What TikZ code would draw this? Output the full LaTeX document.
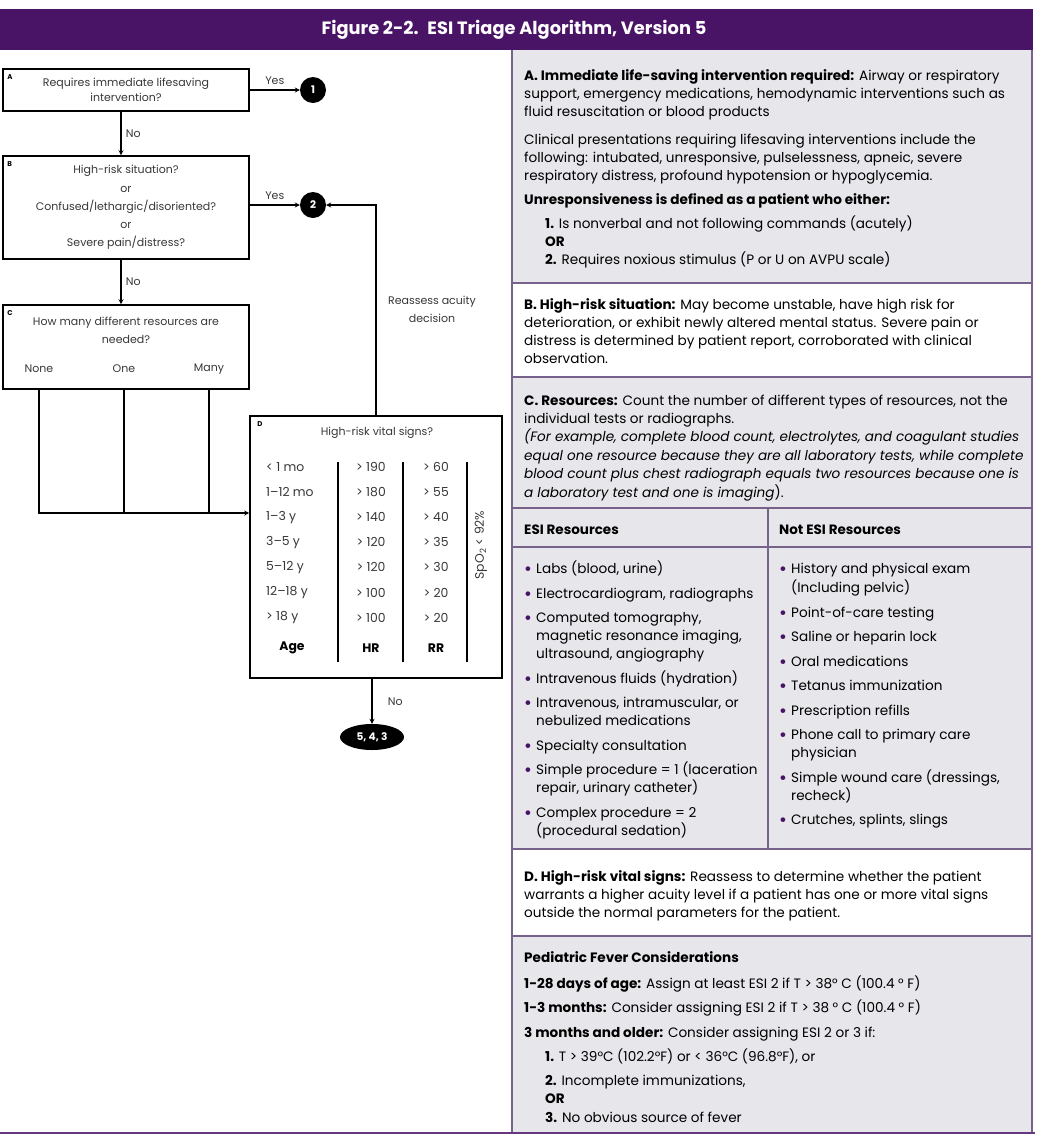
\documentclass[tikz,border=0pt]{standalone}
\usepackage{fontspec}
\setmainfont{Poppins}
\usepackage{xcolor}
\usetikzlibrary{shapes.geometric, arrows.meta, positioning}

\definecolor{esiPurple}{HTML}{4A1466}
\definecolor{panelGray}{HTML}{E6E6EB}
\definecolor{ruleLine}{HTML}{76628A}
\definecolor{flowText}{HTML}{383838}

\newcommand{\esibul}{\makebox[12pt][l]{\color{esiPurple}\raisebox{-1.6pt}{\fontsize{19}{19}\selectfont\textbullet}}}
\newcommand{\esiind}{\hspace*{12pt}}
\newcommand{\numind}{\hspace*{21pt}}

\begin{document}
\begin{tikzpicture}[
    x=1pt, y=-1pt,
    qbox/.style={draw, line width=1.6pt, minimum width=246, inner sep=0},
    ftxt/.style={text=flowText, font=\fontsize{11}{18.2}\selectfont},
    vtxt/.style={text=flowText, font=\fontsize{12.4}{14}\selectfont},
    fhead/.style={text=black, font=\bfseries\fontsize{12.4}{14}\selectfont},
    boxtag/.style={anchor=north west, inner sep=0, font=\bfseries\fontsize{7}{8}\selectfont},
    esinum/.style={circle, fill=black, text=white, minimum size=26, inner sep=0, font=\bfseries\fontsize{10.5}{12}\selectfont},
    flow/.style={-{Stealth[length=5pt, width=5pt]}, line width=1.3pt},
    ptxt/.style={anchor=north west, inner sep=0, align=left, font=\fontsize{13.6}{18}\selectfont},
    rulebar/.style={ruleLine, line width=1.2pt},
  ]
  \useasboundingbox (0,0) rectangle (1045,1144);
  \fill[white] (0,0) rectangle (1045,1144);

  % Title bar
  \fill[esiPurple] (0,9) rectangle (1033,50);
  \node[text=white, font=\bfseries\fontsize{17.8}{20}\selectfont] (title) at (514,30) {Figure 2-2.~ ESI Triage Algorithm, Version 5};

  % Right panel background
  \fill[panelGray] (512,50) rectangle (1032,283);
  \fill[panelGray] (512,377) rectangle (1032,849);
  \fill[panelGray] (512,936) rectangle (1032,1133);
  \foreach \ry in {283,377,508,547,849,936}
    \draw[rulebar] (512,\ry) -- (1032,\ry);
  \draw[rulebar] (512,50) -- (512,1133);
  \draw[rulebar] (1032,50) -- (1032,1133);
  \draw[rulebar] (768,508) -- (768,849);
  \draw[esiPurple!85, line width=1.5pt] (0,1133) -- (1035,1133);

  % Decision boxes
  \node[qbox, minimum height=42, ftxt, font=\fontsize{11}{15}\selectfont, align=center] (boxA) at (126,90) {Requires immediate lifesaving\\intervention?};
  \node[qbox, minimum height=103, ftxt, align=center] (boxB) at (126,207.5) {High-risk situation?\\or\\Confused/lethargic/disoriented?\\or\\Severe pain/distress?};
  \node[qbox, minimum height=84] (boxC) at (126,347) {};
  \node[qbox, minimum width=252, minimum height=262] (boxD) at (376,547) {};

  \node[boxtag] (tagA) at ([shift={(5pt,-6pt)}]boxA.north west) {A};
  \node[boxtag] (tagB) at ([shift={(5pt,-6pt)}]boxB.north west) {B};
  \node[boxtag] (tagC) at ([shift={(5pt,-6pt)}]boxC.north west) {C};
  \node[boxtag] (tagD) at ([shift={(8pt,-6pt)}]boxD.north west) {D};

  \node[ftxt, align=center] (askC) at (126,330) {How many different resources are\\needed?};
  \node[ftxt] (optNone) at (39,369) {None};
  \node[ftxt] (optOne) at (124,369) {One};
  \node[ftxt] (optMany) at (209,369) {Many};

  % Vital signs table
  \node[ftxt] (askD) at (377,433) {High-risk vital signs?};
  \foreach \age/\hr/\rr [count=\i from 0] in {< 1 mo/> 190/> 60, 1--12 mo/> 180/> 55, 1--3 y/> 140/> 40, 3--5 y/> 120/> 35, 5--12 y/> 120/> 30, 12--18 y/> 100/> 20, > 18 y/> 100/> 20} {
    \node[vtxt, anchor=west, inner sep=0] (age\i) at (266,{467+25.1*\i}) {\age};
    \node[vtxt] (hr\i) at (371,{467+25.1*\i}) {\hr};
    \node[vtxt] (rr\i) at (436,{467+25.1*\i}) {\rr};
  }
  \node[fhead] (ageHead) at (292,648) {Age};
  \node[fhead] (hrHead) at (371,648) {HR};
  \node[fhead] (rrHead) at (436,648) {RR};
  \foreach \sx in {338,403,467}
    \draw[line width=1.6pt] (\sx,462) -- (\sx,662);
  \node[vtxt, rotate=90] (spo) at (481,545) {SpO\textsubscript{2} < 92\%};

  % ESI levels
  \node[esinum] (esiOne) at (313,90) {1};
  \node[esinum] (esiTwo) at (313,205) {2};
  \node[ellipse, fill=black, text=white, minimum width=64, minimum height=26, inner sep=0, font=\bfseries\fontsize{10.5}{12}\selectfont] (esiLow) at (372,737) {5, 4, 3};

  % Connectors
  \draw[flow] (boxA) -- node[ftxt, above=1pt] (yesA) {Yes} (esiOne);
  \draw[flow] (boxB.east |- esiTwo) -- node[ftxt, above=1pt] (yesB) {Yes} (esiTwo);
  \draw[flow] ([xshift=-5pt]boxA.south) -- node[ftxt, right=1pt] (noA) {No} ([xshift=-5pt]boxB.north);
  \draw[flow] ([xshift=-5pt]boxB.south) -- node[ftxt, right=1pt] (noB) {No} ([xshift=-5pt]boxC.north);
  \path (boxD.west) ++(0,-34) coordinate (dIn);
  \draw[flow] (optNone |- boxC.south) |- (dIn);
  \draw[line width=1.3pt] (optOne |- boxC.south) -- (optOne |- dIn);
  \draw[line width=1.3pt] (optMany |- boxC.south) -- (optMany |- dIn);
  \draw[flow] (boxD.north) |- (esiTwo);
  \node[ftxt, align=center] (reassess) at (432,309) {Reassess acuity\\decision};
  \draw[flow] ([xshift=-4pt]boxD.south) -- node[ftxt, right=12pt] (noD) {No} (esiLow);

  % Panel texts
  \node[ptxt] (secA) at (524,68) {\strut\textbf{A. Immediate life-saving intervention required:} Airway or respiratory\\
    support, emergency medications, hemodynamic interventions such as\\
    fluid resuscitation or blood products\\[10pt]
    Clinical presentations requiring lifesaving interventions include the\\
    following: intubated, unresponsive, pulselessness, apneic, severe\\
    respiratory distress, profound hypotension or hypoglycemia.\\[6pt]
    \textbf{Unresponsiveness is defined as a patient who either:}\\[6pt]
    \numind\textbf{1.} Is nonverbal and not following commands (acutely)\\
    \numind\textbf{OR}\\
    \numind\textbf{2.} Requires noxious stimulus (P or U on AVPU scale)};

  \node[ptxt] (secB) at (524,297) {\strut\textbf{B. High-risk situation:} May become unstable, have high risk for\\
    deterioration, or exhibit newly altered mental status. Severe pain or\\
    distress is determined by patient report, corroborated with clinical\\
    observation.};

  \node[ptxt, font=\fontsize{13.6}{18.4}\selectfont] (secC) at (524,392) {\strut\textbf{C. Resources:} Count the number of different types of resources, not the\\
    individual tests or radiographs.\\
    \textit{(For example, complete blood count, electrolytes, and coagulant studies}\\
    \textit{equal one resource because they are all laboratory tests, while complete}\\
    \textit{blood count plus chest radiograph equals two resources because one is}\\
    \textit{a laboratory test and one is imaging}).};

  \node[ptxt, anchor=west, font=\bfseries\fontsize{13.5}{18}\selectfont] (headEsi) at (524,530) {ESI Resources};
  \node[ptxt, anchor=west, font=\bfseries\fontsize{13.5}{18}\selectfont] (headNot) at (779,530) {Not ESI Resources};

  \node[ptxt] (listEsi) at (524,561) {\strut\esibul Labs (blood, urine)\\[6.5pt]
    \esibul Electrocardiogram, radiographs\\[6.5pt]
    \esibul Computed tomography,\\
    \esiind magnetic resonance imaging,\\
    \esiind ultrasound, angiography\\[6.5pt]
    \esibul Intravenous fluids (hydration)\\[6.5pt]
    \esibul Intravenous, intramuscular, or\\
    \esiind nebulized medications\\[6.5pt]
    \esibul Specialty consultation\\[6.5pt]
    \esibul Simple procedure = 1 (laceration\\
    \esiind repair, urinary catheter)\\[6.5pt]
    \esibul Complex procedure = 2\\
    \esiind (procedural sedation)};

  \node[ptxt] (listNot) at (779,561) {\strut\esibul History and physical exam\\
    \esiind (Including pelvic)\\[6.5pt]
    \esibul Point-of-care testing\\[6.5pt]
    \esibul Saline or heparin lock\\[6.5pt]
    \esibul Oral medications\\[6.5pt]
    \esibul Tetanus immunization\\[6.5pt]
    \esibul Prescription refills\\[6.5pt]
    \esibul Phone call to primary care\\
    \esiind physician\\[6.5pt]
    \esibul Simple wound care (dressings,\\
    \esiind recheck)\\[6.5pt]
    \esibul Crutches, splints, slings};

  \node[ptxt] (secD) at (524,869) {\strut\textbf{D. High-risk vital signs:} Reassess to determine whether the patient\\
    warrants a higher acuity level if a patient has one or more vital signs\\
    outside the normal parameters for the patient.};

  \node[ptxt] (secFever) at (524,950) {\strut\textbf{Pediatric Fever Considerations}\\[6.5pt]
    \textbf{1-28 days of age:} Assign at least ESI 2 if T > 38° C (100.4 ° F)\\[6.5pt]
    \textbf{1-3 months:} Consider assigning ESI 2 if T > 38 ° C (100.4 ° F)\\[6.5pt]
    \textbf{3 months and older:} Consider assigning ESI 2 or 3 if:\\[6pt]
    \numind\textbf{1.} T > 39°C (102.2°F) or < 36°C (96.8°F), or\\[6.5pt]
    \numind\textbf{2.} Incomplete immunizations,\\
    \numind\textbf{OR}\\[1pt]
    \numind\textbf{3.} No obvious source of fever};
\end{tikzpicture}
\end{document}
